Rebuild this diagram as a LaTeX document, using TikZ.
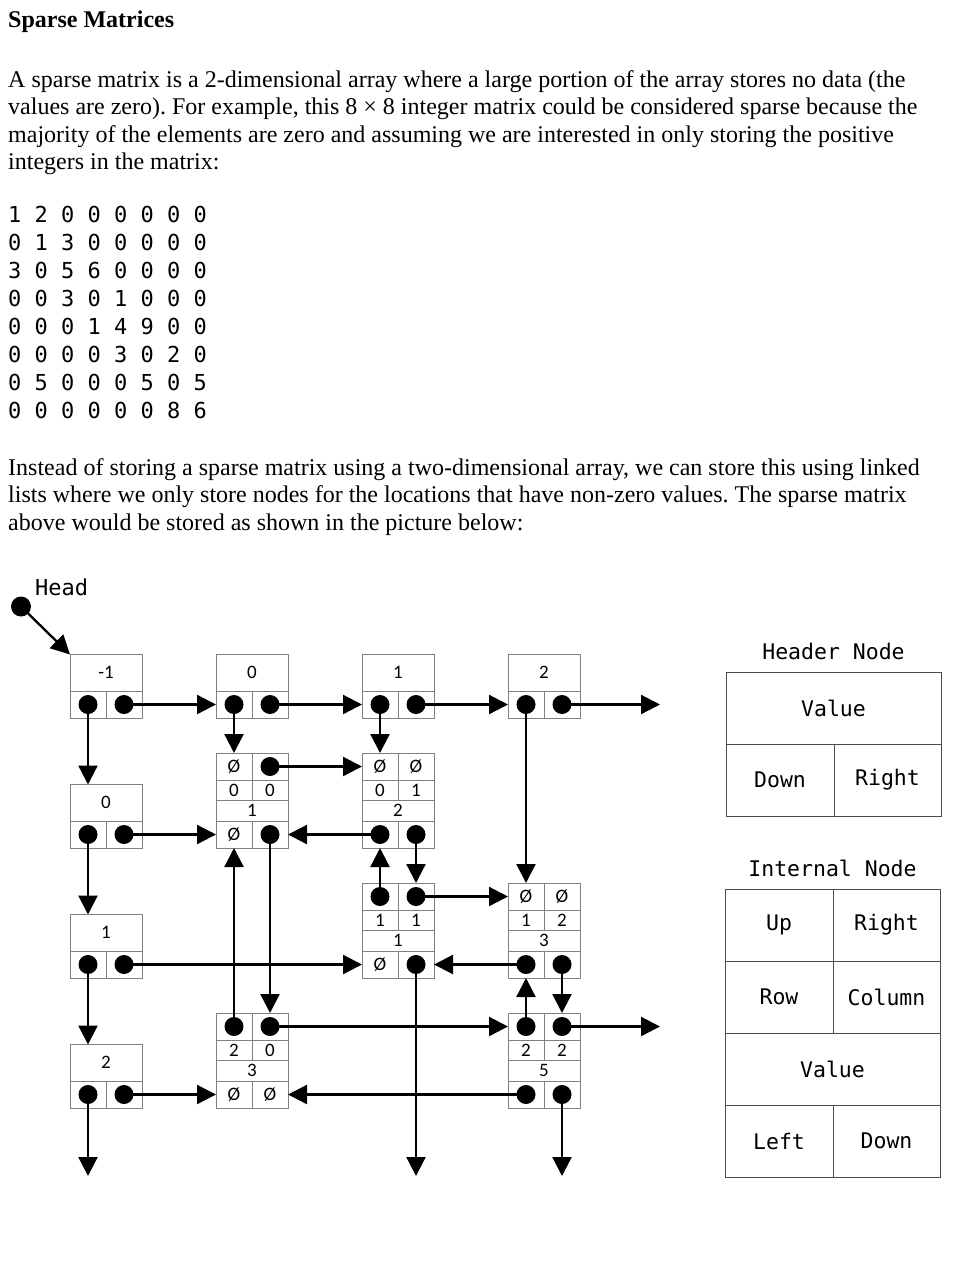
\documentclass[tikz,border=0pt]{standalone}
\usepackage{fontspec}
\setmainfont{Liberation Serif}
\newfontfamily\keyfont{DejaVu Sans Mono}
\newfontfamily\cellfont{Carlito}
\usetikzlibrary{arrows.meta,positioning}
\frenchspacing
\newcommand{\headnode}[3]{
    \node[ptrcell, ptr, anchor=south west] (#1-d) at (#2) {};
    \node[ptrcell, ptr, right=0pt of #1-d] (#1-r) {};
    \node[ptrcell, minimum width=72pt, minimum height=36.5pt, above=0pt of #1-d.north east] (#1-v) {#3};
}
\newcommand{\datanode}[9]{
    \node[ptrcell, #8, anchor=south west] (#1-l) at (#2) {};
    \node[ptrcell, #9, right=0pt of #1-l] (#1-d) {};
    \node[ptrcell, minimum width=72pt, minimum height=20.5pt, above=0pt of #1-l.north east] (#1-v) {#7};
    \node[ptrcell, minimum height=20.5pt, above=0pt of #1-v.north west, anchor=south west] (#1-i) {#5};
    \node[ptrcell, minimum height=20.5pt, right=0pt of #1-i] (#1-j) {#6};
    \node[ptrcell, #3, above=0pt of #1-i.north west, anchor=south west] (#1-u) {};
    \node[ptrcell, #4, right=0pt of #1-u] (#1-r) {};
}

\begin{document}
\begin{tikzpicture}[x=1pt,y=-1pt,
    ptrcell/.style={draw=black!50, line width=0.8pt, minimum width=36pt, minimum height=27pt, inner sep=0pt, outer sep=0pt, font=\cellfont\fontsize{19}{19}\selectfont},
    ptr/.style={path picture={\fill (path picture bounding box.center) circle (9.5pt);}},
    nul/.style={execute at begin node={Ø}},
    link/.style={line width=2.3pt, -{Triangle[length=19pt,width=19pt]}},
    keycell/.style={draw=black!70, line width=0.8pt, minimum height=72pt, inner sep=0pt, outer sep=0pt, font=\keyfont\fontsize{21.5}{21.5}\selectfont},
    keytitle/.style={anchor=base, inner sep=0pt, font=\keyfont\fontsize{21.5}{21.5}\selectfont},
    mono/.style={anchor=base west, inner sep=0pt, font=\keyfont\fontsize{22}{22}\selectfont},
    prose/.style={anchor=base west, inner sep=0pt, font=\fontsize{24}{27.5}\selectfont}]
    \useasboundingbox[fill=white] (0,0) rectangle (978,1272);

    \node[prose, font=\bfseries\fontsize{24}{27}\selectfont] (title) at (8,27.3) {Sparse Matrices};
    \node[prose] (intro1) at (8,87.3) {A sparse matrix is a 2-dimensional array where a large portion of the array stores no data (the};
    \node[prose] (intro2) at (8,114.8) {values are zero). For example, this 8 × 8 integer matrix could be considered sparse because the};
    \node[prose] (intro3) at (8,142.3) {majority of the elements are zero and assuming we are interested in only storing the positive};
    \node[prose] (intro4) at (8,169.8) {integers in the matrix:};

    \foreach \r [count=\k from 0] in {{1 2 0 0 0 0 0 0},{0 1 3 0 0 0 0 0},{3 0 5 6 0 0 0 0},{0 0 3 0 1 0 0 0},
        {0 0 0 1 4 9 0 0},{0 0 0 0 3 0 2 0},{0 5 0 0 0 5 0 5},{0 0 0 0 0 0 8 6}}
        \node[mono] (mrow\k) at (8,{222.3+28*\k}) {\r};

    \node[prose] (store1) at (8,475) {Instead of storing a sparse matrix using a two-dimensional array, we can store this using linked};
    \node[prose] (store2) at (8,502.7) {lists where we only store nodes for the locations that have non-zero values. The sparse matrix};
    \node[prose] (store3) at (8,530.4) {above would be stored as shown in the picture below:};

    \node[mono] (headlbl) at (35,595) {Head};
    \node[circle, fill, inner sep=0pt, minimum size=20pt] (head) at (21,606.5) {};
    \coordinate (rightend) at (660,0);
    \coordinate (bottomend) at (0,1176);

    \headnode{hm}{70,718}{-1}
    \headnode{hc0}{216,718}{0}
    \headnode{hc1}{362,718}{1}
    \headnode{hc2}{508,718}{2}
    \headnode{hr0}{70,848}{0}
    \headnode{hr1}{70,978}{1}
    \headnode{hr2}{70,1108}{2}

    \datanode{n00}{216,848}{nul}{ptr}{0}{0}{1}{nul}{ptr}
    \datanode{n01}{362,848}{nul}{nul}{0}{1}{2}{ptr}{ptr}
    \datanode{n11}{362,978}{ptr}{ptr}{1}{1}{1}{nul}{ptr}
    \datanode{n12}{508,978}{nul}{nul}{1}{2}{3}{ptr}{ptr}
    \datanode{n20}{216,1108}{ptr}{ptr}{2}{0}{3}{nul}{nul}
    \datanode{n22}{508,1108}{ptr}{ptr}{2}{2}{5}{ptr}{ptr}

    \draw[link] (head.center) -- (hm-v.north west);
    \draw[link] (hm-r.center) -- (hc0-d.west);
    \draw[link] (hc0-r.center) -- (hc1-d.west);
    \draw[link] (hc1-r.center) -- (hc2-d.west);
    \draw[link] (hc2-r.center) -- (hc2-r.center -| rightend);
    \draw[link] (hm-d.center) -- (hm-d.center |- hr0-v.north);
    \draw[link] (hr0-d.center) -- (hr0-d.center |- hr1-v.north);
    \draw[link] (hr1-d.center) -- (hr1-d.center |- hr2-v.north);
    \draw[link] (hr2-d.center) -- (hr2-d.center |- bottomend);

    \draw[link] (hc0-d.center) -- (n00-u.north);
    \draw[link] (hc1-d.center) -- (n01-u.north);
    \draw[link] (hc2-d.center) -- (n12-u.north);
    \draw[link] (hr0-r.center) -- (n00-l.west);
    \draw[link] (n00-r.center) -- (n01-u.west);
    \draw[link] (n01-l.center) -- (n00-d.east);
    \draw[link] (n00-d.center) -- (n20-r.north);
    \draw[link] (n20-u.center) -- (n00-l.south);
    \draw[link] (n01-d.center) -- (n11-r.north);
    \draw[link] (n11-u.center) -- (n01-l.south);
    \draw[link] (n11-r.center) -- (n12-u.west);
    \draw[link] (hr1-r.center) -- (n11-l.west);
    \draw[link] (n12-l.center) -- (n11-d.east);
    \draw[link] (n11-d.center) -- (n11-d.center |- bottomend);
    \draw[link] (n12-d.center) -- (n22-r.north);
    \draw[link] (n22-u.center) -- (n12-l.south);
    \draw[link] (n20-r.center) -- (n22-u.west);
    \draw[link] (n22-r.center) -- (n22-r.center -| rightend);
    \draw[link] (hr2-r.center) -- (n20-l.west);
    \draw[link] (n22-l.center) -- (n20-d.east);
    \draw[link] (n22-d.center) -- (n22-d.center |- bottomend);

    \node[keytitle] (hdrkey) at (833.5,659.3) {Header Node};
    \node[keycell, minimum width=215pt, anchor=north west] (hk-v) at (726,672) {Value};
    \node[keycell, minimum width=108pt, anchor=north west] (hk-d) at (hk-v.south west) {Down};
    \node[keycell, minimum width=107pt, right=0pt of hk-d] (hk-r) {Right};

    \node[keytitle] (intkey) at (832.5,876.7) {Internal Node};
    \node[keycell, minimum width=108pt, anchor=north west] (ik-u) at (725,889) {Up};
    \node[keycell, minimum width=107pt, right=0pt of ik-u] (ik-r) {Right};
    \node[keycell, minimum width=108pt, anchor=north west] (ik-i) at (ik-u.south west) {Row};
    \node[keycell, minimum width=107pt, right=0pt of ik-i] (ik-j) {Column};
    \node[keycell, minimum width=215pt, anchor=north west] (ik-v) at (ik-i.south west) {Value};
    \node[keycell, minimum width=108pt, anchor=north west] (ik-l) at (ik-v.south west) {Left};
    \node[keycell, minimum width=107pt, right=0pt of ik-l] (ik-d) {Down};
\end{tikzpicture}
\end{document}
